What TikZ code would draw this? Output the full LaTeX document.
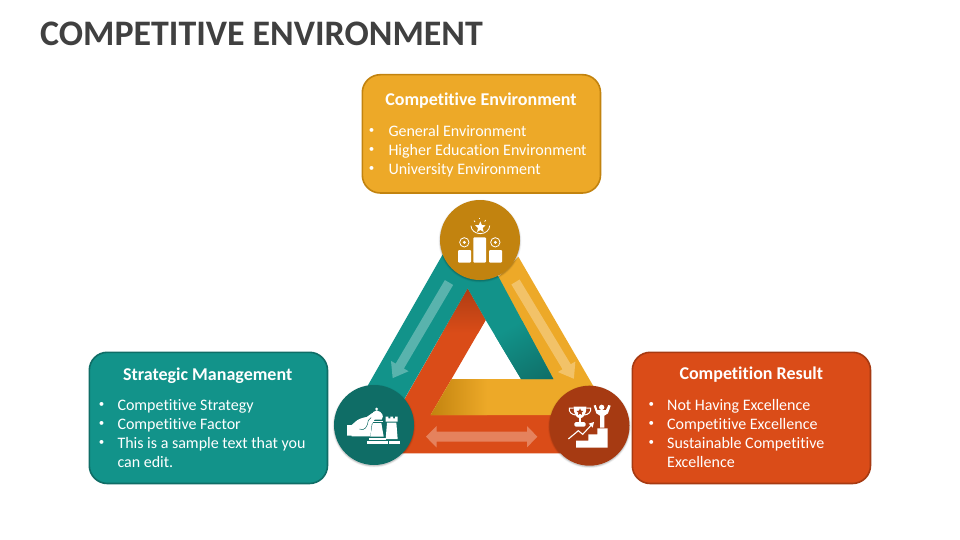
\documentclass[tikz,border=0pt]{standalone}
\usepackage{fontspec}
\setmainfont[Ligatures=CommonOff]{Carlito}
\definecolor{yel}{HTML}{EDA928}
\definecolor{yeld}{HTML}{C2830F}
\definecolor{tea}{HTML}{12938A}
\definecolor{tead}{HTML}{0F6D66}
\definecolor{rd}{HTML}{DA4C18}
\definecolor{rdd}{HTML}{A63A12}
\definecolor{ttl}{HTML}{404040}
\tikzset{
  zoomed/.style 2 args={shift={(#1,#2)},x=.33333pt,y=-.33333pt},
  card/.style={rounded corners=18pt,line width=1.6pt},
  head/.style={anchor=base,text=white,font=\fontsize{18}{20}\selectfont\bfseries,inner sep=0pt},
  item/.style={anchor=base west,text=white,font=\fontsize{16}{19}\selectfont,inner sep=0pt},
  dot/.style={anchor=center,text=white,font=\fontsize{11}{12}\selectfont,inner sep=0pt},
  glass/.style={fill=white,opacity=.3},
  ico/.style={fill=white,draw=none},
  icoline/.style={draw=white,fill=none},
}
\newcommand{\disc}[3]{% x y fill
  \foreach \rr/\oo in {41.5/.04,40.8/.07,40.2/.10}{\fill[black,opacity=\oo] (#1,#2+1) circle[radius=\rr pt];}
  \fill[#3] (#1,#2) circle[radius=40pt];
}
\begin{document}
\begin{tikzpicture}[x=1pt,y=-1pt]
\useasboundingbox (0,0) rectangle (960,540);
\fill[white] (0,0) rectangle (960,540);
\node[anchor=base west,inner sep=0pt,text=ttl,font=\fontsize{35.9}{40}\selectfont\bfseries] (title) at (40,46) {COMPETITIVE ENVIRONMENT};

% cards
\draw[card,fill=yel,draw=yeld] (362.3,74.7) rectangle (600.5,193);
\draw[card,fill=tea,draw=tead] (89.3,352.3) rectangle (327.5,483.5);
\draw[card,fill=rd,draw=rdd] (632.3,352.3) rectangle (870.5,483.5);

\node[head] (h1) at (481,105.5) {Competitive Environment};
\node[dot] (b11) at (371.7,130.5) {•}; \node[item] (t11) at (388.3,136.3) {General Environment};
\node[dot] (b12) at (371.7,149.5) {•}; \node[item] (t12) at (388.3,155.3) {Higher Education Environment};
\node[dot] (b13) at (371.7,168.5) {•}; \node[item] (t13) at (388.3,174.5) {University Environment};

\node[head] (h2) at (207.7,380) {Strategic Management};
\node[dot] (b21) at (101.7,404.5) {•}; \node[item] (t21) at (117.3,410) {Competitive Strategy};
\node[dot] (b22) at (101.7,423.5) {•}; \node[item] (t22) at (117.3,429) {Competitive Factor};
\node[dot] (b23) at (101.7,442.5) {•}; \node[item] (t23) at (117.3,448) {This is a sample text that you};
\node[item] (t24) at (117.3,467.5) {can edit.};

\node[head] (h3) at (751.3,379) {Competition Result};
\node[dot] (b31) at (651.3,404.5) {•}; \node[item] (t31) at (667,410) {Not Having Excellence};
\node[dot] (b32) at (651.3,423.5) {•}; \node[item] (t32) at (667,429) {Competitive Excellence};
\node[dot] (b33) at (651.3,442.5) {•}; \node[item] (t33) at (667,448) {Sustainable Competitive};
\node[item] (t34) at (667,467.5) {Excellence};

% red band
\begin{scope}
\clip (467.67,288.33) -- (485.67,320) -- (430.67,415) -- (586.67,415) -- (586.67,453.33) -- (373.67,453.33) -- cycle;
\fill[rd] (360,280) rectangle (600,460);
\shade[top color=rdd!85!rd,bottom color=rd] (440,288) rectangle (500,333);
\end{scope}
% yellow band
\begin{scope}
\clip (518.33,256.67) -- (496.67,278.33) -- (553.33,379) -- (451.67,379) -- (430.67,415) -- (586.67,415) -- (603.33,403.33) -- cycle;
\fill[yel] (420,250) rectangle (610,420);
\shade[left color=yeld,right color=yel] (430,370) rectangle (487,420);
\end{scope}
% teal band
\begin{scope}
\clip (363.33,393.33) -- (443.33,253.33) -- (496.67,273.33) -- (553.33,379) -- (521,379) -- (485.67,320) -- (467.67,288.33) -- (400,406.67) -- cycle;
\fill[tea] (350,250) rectangle (560,420);
\begin{scope}[transform canvas={shift={(516.7,323)},rotate=-60}]
\shade[left color=tea,right color=tead] (0,-80) rectangle (68,80);
\end{scope}
\end{scope}

% translucent arrows
\begin{scope}[shift={(449,282.5)},rotate=-120.5]
\fill[glass] (0,-4.8) -- (97,-4.8) -- (97,-10.2) -- (111,0) -- (97,10.2) -- (97,4.8) -- (0,4.8) -- cycle;
\end{scope}
\begin{scope}[shift={(515.5,282)},rotate=-58.9]
\fill[glass] (0,-4.8) -- (99,-4.8) -- (99,-10.2) -- (113,0) -- (99,10.2) -- (99,4.8) -- (0,4.8) -- cycle;
\end{scope}
\fill[glass] (426,436.7) -- (436.5,426) -- (436.5,431.7) -- (527,431.7) -- (527,426) -- (537.3,436.7) -- (527,447.4) -- (527,441.7) -- (436.5,441.7) -- (436.5,447.4) -- cycle;

% discs
\disc{480}{240}{yeld}
\disc{374}{425}{tead}
\disc{589.5}{425.7}{rdd}

% podium icon
\begin{scope}[zoomed={320}{190}]
\fill[ico,rounded corners=1pt] (460,142) rectangle (498,218);
\fill[ico,rounded corners=1pt] (414,180) rectangle (453,218);
\fill[ico,rounded corners=1pt] (507,180) rectangle (546,218);
\draw[icoline,line width=.8pt] (433,157) circle[radius=14];
\fill[ico] (433,157) circle[radius=5];
\draw[icoline,line width=.8pt] (526,157) circle[radius=14];
\fill[ico] (526,157) circle[radius=5];
\fill[ico] (481,94) -- (485.5,105) -- (497,106) -- (488,114) -- (491,126) -- (481,120) -- (471,126) -- (474,114) -- (465,106) -- (476.5,105) -- cycle;
\draw[icoline,line width=.8pt] (453,107) arc[start angle=180,end angle=360,radius=28,y radius=-24];
\draw[icoline,line width=.7pt] (462,92) -- (465,96);
\draw[icoline,line width=.7pt] (479,83) -- (479,88);
\draw[icoline,line width=.7pt] (497,90) -- (494,95);
\end{scope}

% chess icon
\begin{scope}[zoomed={325}{375}]
\fill[ico] (66,150) -- (80,150) -- (88,143) .. controls (98,132) and (112,128) .. (125,126) -- (142,114) -- (154,125) -- (140,148) -- (136,184) -- (80,184) -- (80,182) -- (66,182) -- cycle;
\draw[draw=tead,line width=.5pt] (103,162) .. controls (118,170) and (128,155) .. (130,136) -- (142,124);
\fill[ico] (155,102) circle[radius=4.5];
\fill[ico] (155,106) .. controls (172,111) and (178,122) .. (170,134) -- (141,134) .. controls (134,122) and (140,111) .. (155,106) -- cycle;
\fill[ico] (139,137) rectangle (173,142);
\fill[ico] (143,144) -- (169,144) -- (176,185) -- (136,185) -- cycle;
\fill[ico] (131,188) rectangle (182,195);
\fill[ico] (125,198) rectangle (190,208);
\fill[ico] (182,125) -- (190,125) -- (190,130) -- (196,130) -- (196,125) -- (204,125) -- (204,130) -- (210,130) -- (210,125) -- (218,125) -- (218,140) -- (182,140) -- cycle;
\fill[ico] (186,143) -- (214,143) -- (218,192) -- (182,192) -- cycle;
\fill[ico] (193,198) rectangle (225,208);
\end{scope}

% trophy icon
\begin{scope}[zoomed={540}{375}]
\fill[ico] (101,95) -- (139,95) .. controls (139,120) and (130,128) .. (120,130) .. controls (110,128) and (101,120) .. (101,95) -- cycle;
\draw[icoline,line width=1pt] (101,99) -- (88,99) .. controls (86,112) and (95,118) .. (106,120);
\draw[icoline,line width=1pt] (139,99) -- (152,99) .. controls (154,112) and (145,118) .. (134,120);
\fill[rdd] (120,100) -- (123,107) -- (130,108) -- (125,113) -- (126,120) -- (120,116) -- (114,120) -- (115,113) -- (110,108) -- (117,107) -- cycle;
\fill[ico] (116,130) rectangle (124,140);
\fill[ico,rounded corners=1.5pt] (103,141) rectangle (137,155);
\fill[ico] (185,97) circle[radius=8];
\fill[ico] (161,92) -- (167,90) -- (172,105) -- (198,105) -- (205,90) -- (212,92) -- (204,115) -- (193,122) -- (193,158) -- (180,158) -- (180,122) -- (169,115) -- cycle;
\fill[ico] (108,218) -- (203,218) -- (203,160) -- (172,160) -- (172,178) -- (145,178) -- (145,197) -- (108,197) -- cycle;
\draw[icoline,line width=1.1pt] (85,192) -- (115,167) -- (128,178) -- (156,148);
\fill[ico] (162,141) -- (158,158) -- (146,146) -- cycle;
\end{scope}
\end{tikzpicture}
\end{document}
